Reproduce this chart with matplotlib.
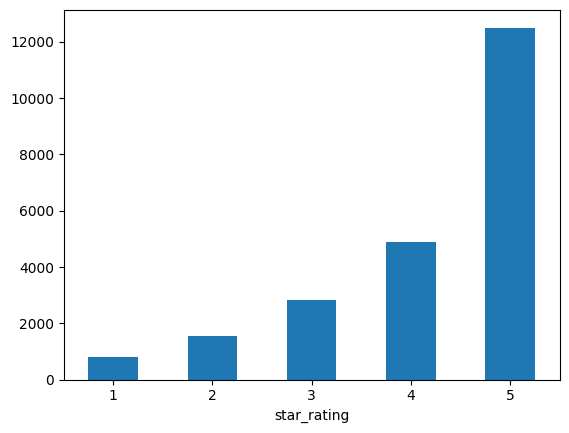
import matplotlib
matplotlib.use("Agg")
import matplotlib.pyplot as plt
import pandas as pd

star_rating = [1, 2, 3, 4, 5]
counts = [800, 1550, 2830, 4890, 12510]

s = pd.Series(counts, index=pd.Index(star_rating, name="star_rating"))
fig, ax = plt.subplots(figsize=(6.4, 4.8), dpi=100)
s.plot.bar(ax=ax, rot=0, color="#1f77b4")
fig.savefig("out.png", bbox_inches="tight")
